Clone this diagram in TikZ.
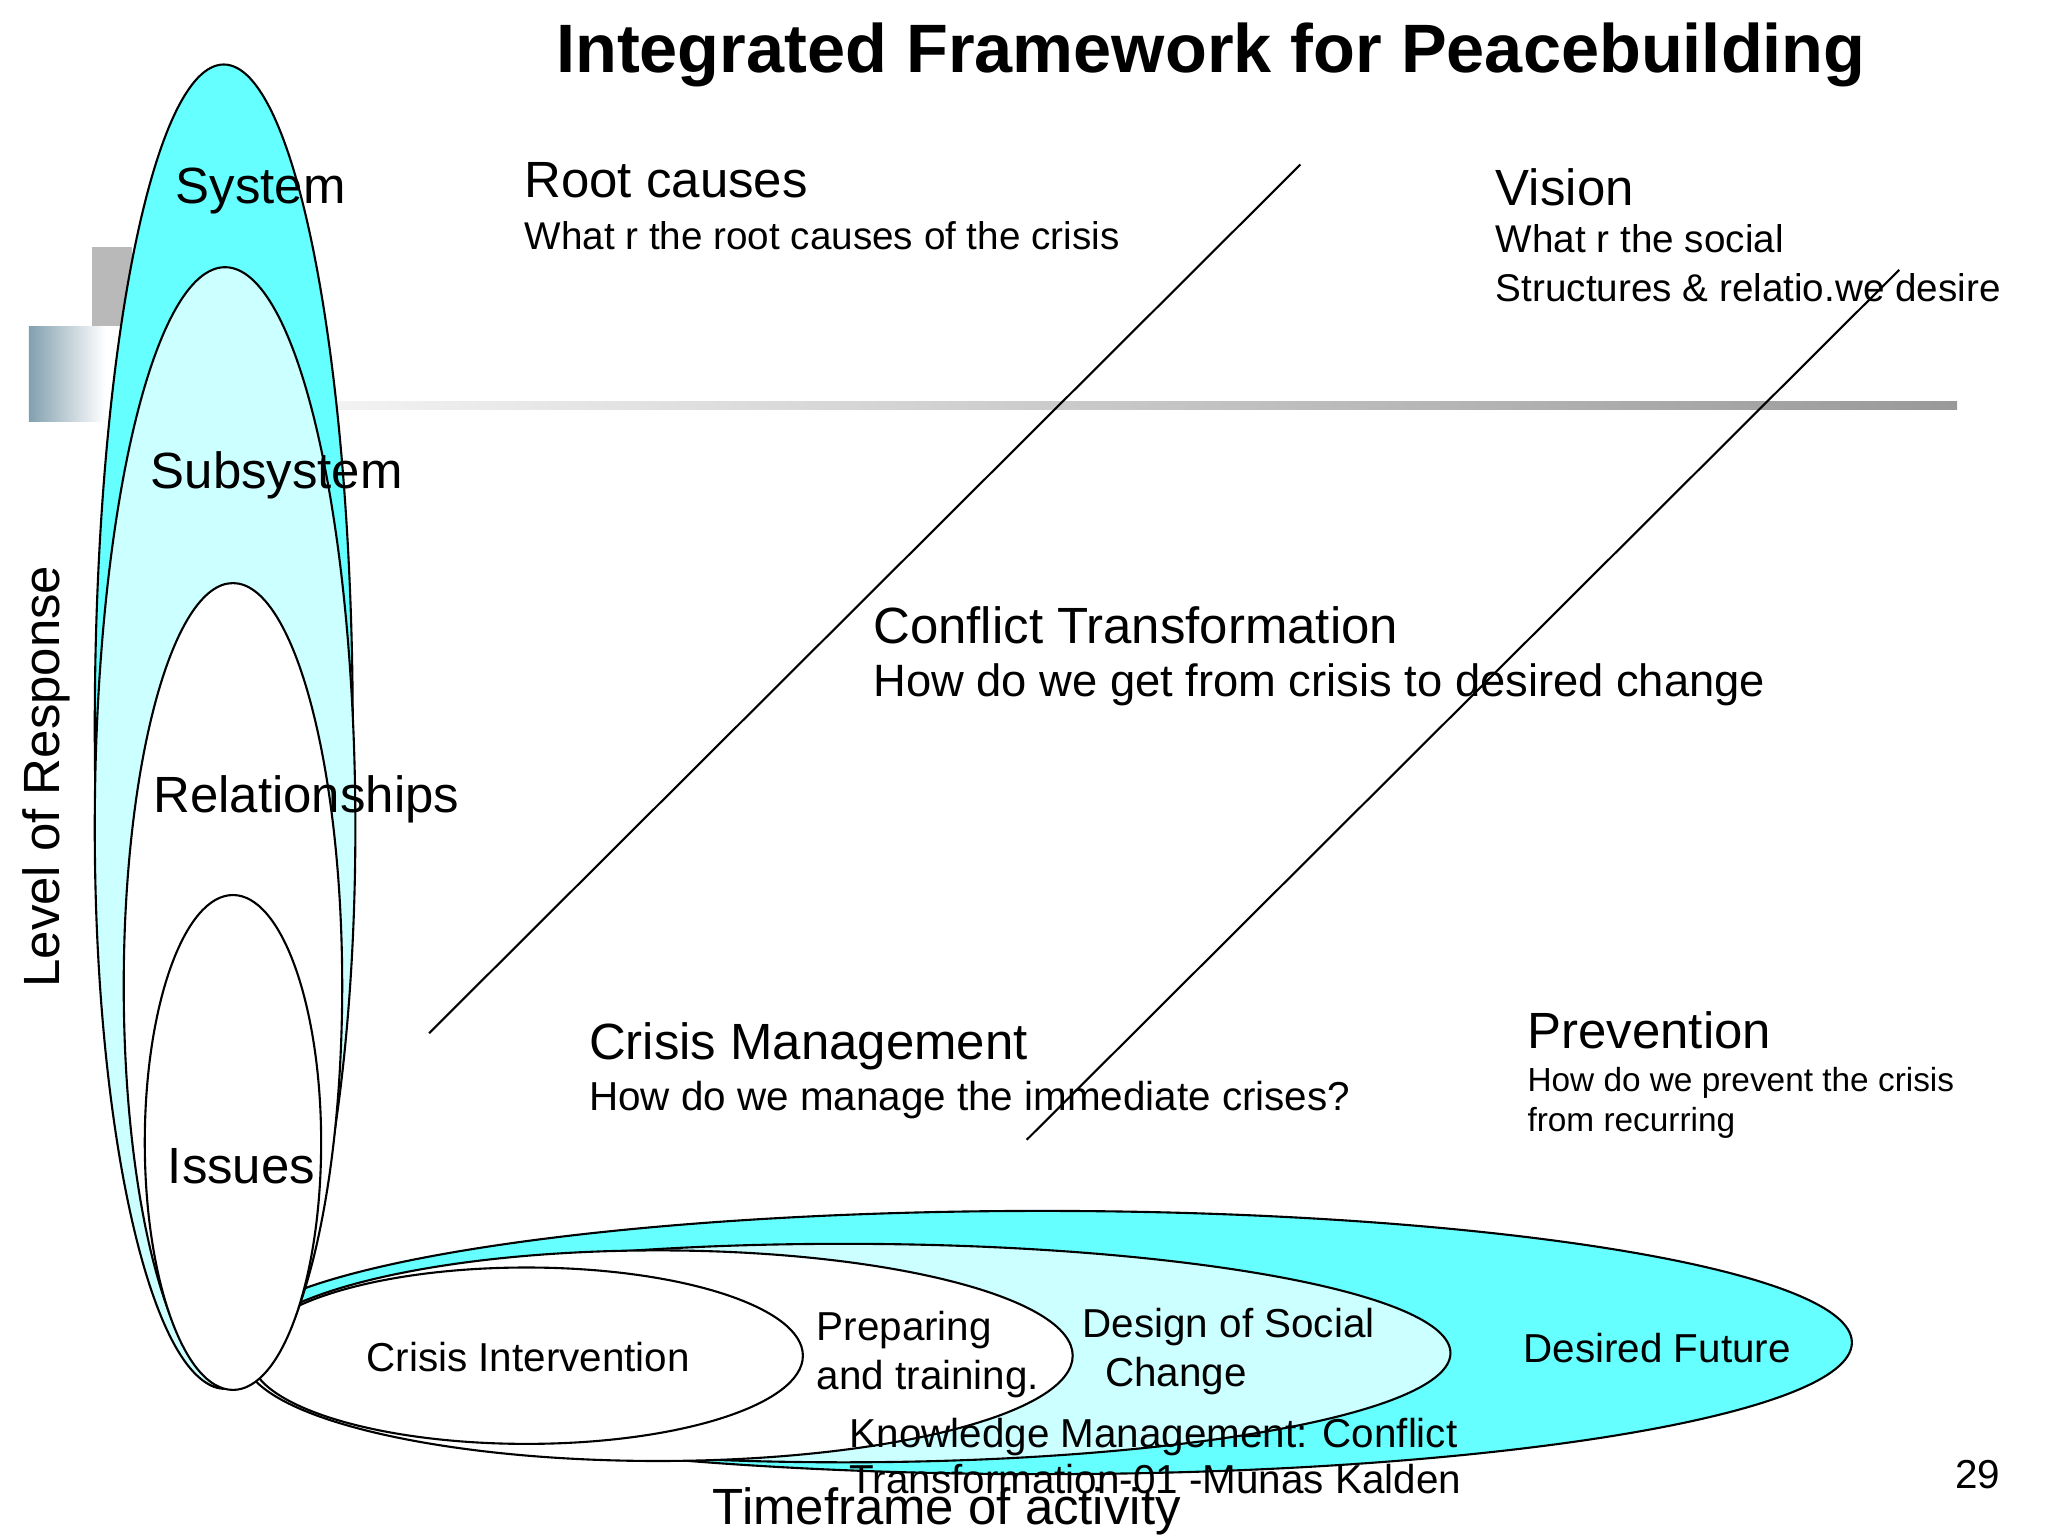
\documentclass[tikz,border=0pt]{standalone}
\usepackage{fontspec}
\setmainfont{Liberation Sans}
\begin{document}
\begin{tikzpicture}[x=0.01317cm,y=-0.01317cm,
  big/.style={font=\fontsize{14.5}{16}\selectfont,anchor=west,inner sep=0},
  mid/.style={font=\fontsize{11.5}{13}\selectfont,anchor=west,inner sep=0},
  sm/.style={font=\fontsize{11}{14}\selectfont,anchor=west,inner sep=0,align=left},
  ell/.style={draw=black,line width=0.6pt}]
\useasboundingbox (0,0) rectangle (1556,1167);
\definecolor{cy}{RGB}{102,255,255}
\definecolor{lcy}{RGB}{204,255,255}
\definecolor{sg}{RGB}{130,160,175}
% decoration
\fill[gray!55] (70,188) rectangle (100,248);
\shade[left color=sg, right color=white] (22,248) rectangle (80,320);
\shade[left color=white,right color=gray!80] (80,305) rectangle (1487,311);
\node[font=\bfseries\fontsize{19.5}{22}\selectfont] (title) at (920,42) {Integrated Framework for Peacebuilding};
% horizontal ellipses
\path[ell,fill=cy] (792,1020) ellipse [x radius=615,y radius=100];
\path[ell,fill=lcy] (641,1028) ellipse [x radius=461,y radius=83];
\path[ell,fill=white] (500,1030) ellipse [x radius=315,y radius=80];
\path[ell,fill=white] (400,1030) ellipse [x radius=210,y radius=67];
% vertical ellipses
\path[ell,fill=cy] (170,552) ellipse [x radius=98,y radius=503];
\path[ell,fill=lcy] (171,629) ellipse [x radius=99,y radius=426];
\path[ell,fill=white] (177,749) ellipse [x radius=83,y radius=306];
\path[ell,fill=white] (177,868) ellipse [x radius=67,y radius=188];
% lines
\coordinate (a1) at (326,785); \coordinate (a2) at (988,125);
\coordinate (b1) at (780,866); \coordinate (b2) at (1443,205);
\draw[line width=0.6pt] (a1) -- (a2);
\draw[line width=0.6pt] (b1) -- (b2);
% vertical labels
\node[big] (sys) at (133,145) {System};
\node[big] (sub) at (114,361) {Subsystem};
\node[big] (rel) at (116,607) {Relationships};
\node[big] (iss) at (127,886) {Issues};
\node[mid] (ci) at (278,1031) {Crisis Intervention};
\node[mid,align=left,anchor=west] (pt) at (620,1029) {Preparing\\[1pt]and training.};
\node[mid,align=left,anchor=west] (ds) at (822,1027) {Design of Social\\[1pt]\ \ Change};
\node[mid] (df) at (1157,1024) {Desired Future};
% main labels
\node[big] (rc) at (398,137) {Root causes};
\node[sm] (rct) at (398,179) {What r the root causes of the crisis};
\node[big] (vi) at (1136,142) {Vision};
\node[sm] (vit) at (1136,200) {What r the social\\Structures \& relatio.we desire};
\node[big] (ct) at (663,475) {Conflict Transformation};
\node[mid,font=\fontsize{12.9}{15}\selectfont] (ctt) at (663,520) {How do we get from crisis to desired change};
\node[big] (cm) at (447,795) {Crisis Management};
\node[mid] (cmt) at (447,836) {How do we manage the immediate crises?};
\node[big] (pr) at (1160,783) {Prevention};
\node[sm,font=\fontsize{9.5}{11.5}\selectfont] (prt) at (1160,838) {How do we prevent the crisis\\from recurring};
\node[mid,align=left] (km) at (645,1106) {Knowledge Management: Conflict\\Transformation-01 -Munas Kalden};
\node[mid] (pg) at (1485,1120) {29};
\node[big] (tf) at (541,1148) {Timeframe of activity};
\node[big,rotate=90,anchor=center] (lr) at (35,590) {Level of Response};
\end{tikzpicture}
\end{document}
